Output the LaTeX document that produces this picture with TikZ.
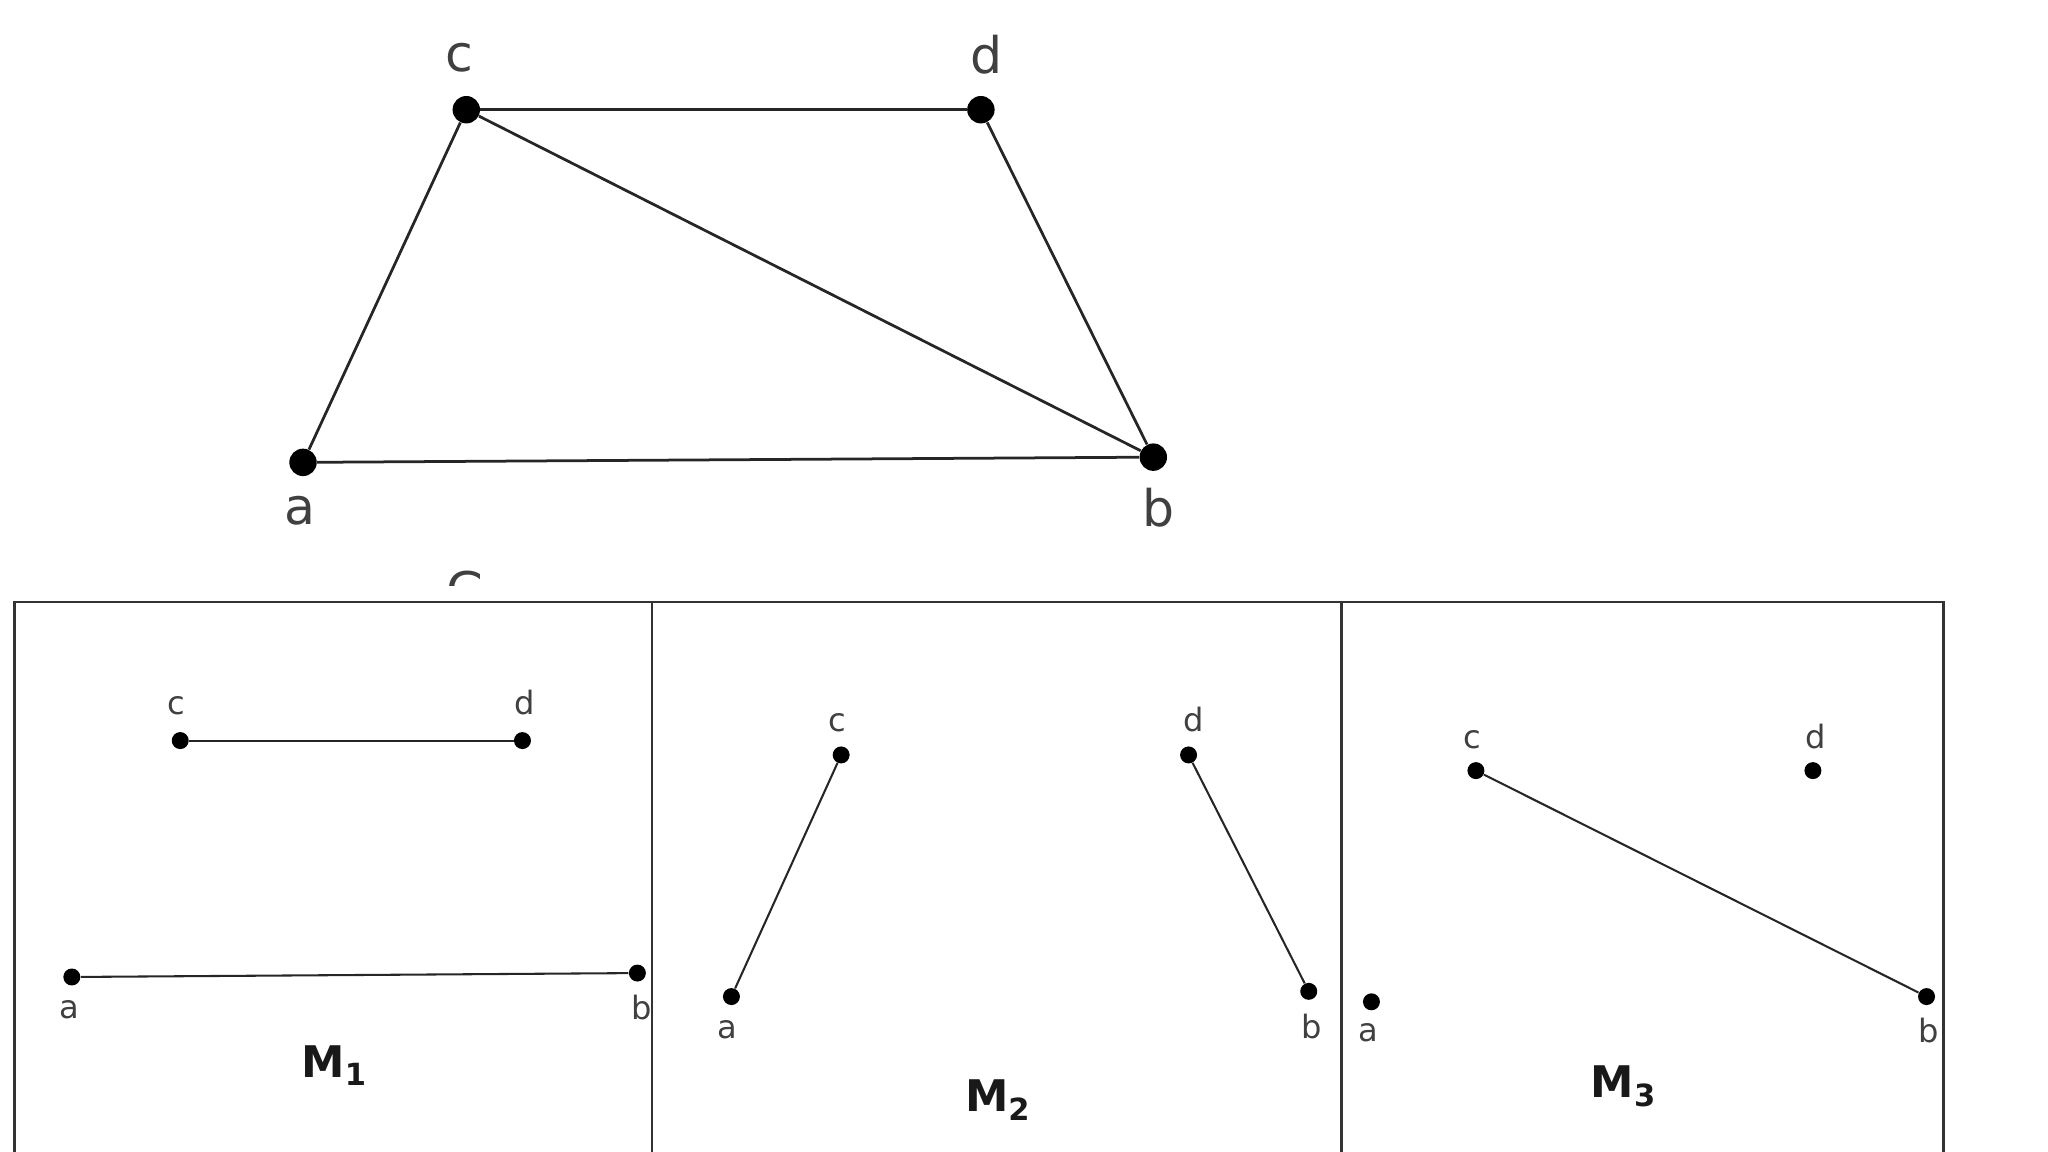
\documentclass[tikz,border=0pt]{standalone}
\usepackage{fontspec}
\setmainfont{DejaVu Sans}

\tikzset{
  bigdot/.style={circle,fill=black,inner sep=0pt,minimum size=0.42cm},
  smalldot/.style={circle,fill=black,inner sep=0pt,minimum size=0.26cm},
  biglbl/.style={inner sep=0pt,text=black!75,font=\fontsize{22}{26}\selectfont},
  smalllbl/.style={inner sep=0pt,text=black!75,font=\fontsize{14}{17}\selectfont},
  mlbl/.style={inner sep=0pt,text=black!90,font=\fontsize{19}{23}\selectfont\bfseries},
  edge/.style={line width=1.2pt,black!85},
  thinedge/.style={line width=0.9pt,black!85},
  frame/.style={line width=1pt,black!80}
}

\begin{document}
\begin{tikzpicture}[x=0.02cm,y=-0.02cm]
  \useasboundingbox (0,0) rectangle (1568,882);

  % graph G
  \node[bigdot] (c) at (357,84) {};
  \node[bigdot] (d) at (751,84) {};
  \node[bigdot] (a) at (232,354) {};
  \node[bigdot] (b) at (883,350) {};
  \node[biglbl] (lc) at (352,44) {c};
  \node[biglbl] (ld) at (755,42) {d};
  \node[biglbl] (la) at (230,391) {a};
  \node[biglbl] (lb) at (887,389) {b};
  \draw[edge] (c) -- (d);
  \draw[edge] (c) -- (a);
  \draw[edge] (c) -- (b);
  \draw[edge] (d) -- (b);
  \draw[edge] (a) -- (b);
  \begin{scope}
    \clip (300,420) rectangle (420,448);
    \node[biglbl] (lg) at (357,452) {G};
  \end{scope}

  % frames
  \draw[frame] (11,882) -- (11,461) -- (1488,461) -- (1488,882);
  \draw[frame] (499,461) -- (499,882);
  \draw[frame] (1027,461) -- (1027,882);

  % M1
  \node[smalldot] (c1) at (138,567) {};
  \node[smalldot] (d1) at (400,567) {};
  \node[smalldot] (a1) at (55,748) {};
  \node[smalldot] (b1) at (488,745) {};
  \node[smalllbl] (lc1) at (135,540) {c};
  \node[smalllbl] (ld1) at (402,538) {d};
  \node[smalllbl] (la1) at (53,773) {a};
  \node[smalllbl] (lb1) at (491,771) {b};
  \draw[thinedge] (c1) -- (d1);
  \draw[thinedge] (a1) -- (b1);
  \node[mlbl] (m1) at (256,816) {M\textsubscript{1}};

  % M2
  \node[smalldot] (c2) at (644,578) {};
  \node[smalldot] (d2) at (910,578) {};
  \node[smalldot] (a2) at (560,763) {};
  \node[smalldot] (b2) at (1002,759) {};
  \node[smalllbl] (lc2) at (641,553) {c};
  \node[smalllbl] (ld2) at (914,551) {d};
  \node[smalllbl] (la2) at (557,788) {a};
  \node[smalllbl] (lb2) at (1004,786) {b};
  \draw[thinedge] (a2) -- (c2);
  \draw[thinedge] (d2) -- (b2);
  \node[mlbl] (m2) at (764,842) {M\textsubscript{2}};

  % M3
  \node[smalldot] (c3) at (1130,590) {};
  \node[smalldot] (d3) at (1388,590) {};
  \node[smalldot] (a3) at (1050,767) {};
  \node[smalldot] (b3) at (1475,763) {};
  \node[smalllbl] (lc3) at (1127,566) {c};
  \node[smalllbl] (ld3) at (1390,564) {d};
  \node[smalllbl] (la3) at (1048,791) {a};
  \node[smalllbl] (lb3) at (1477,789) {b};
  \draw[thinedge] (c3) -- (b3);
  \node[mlbl] (m3) at (1243,832) {M\textsubscript{3}};
\end{tikzpicture}
\end{document}
